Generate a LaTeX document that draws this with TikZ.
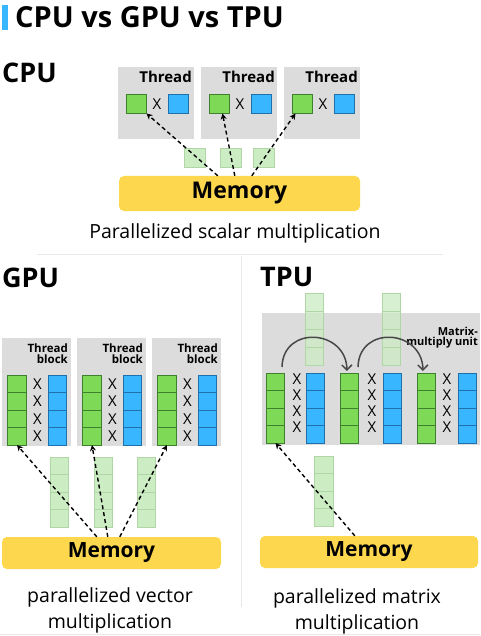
\documentclass[tikz,border=0pt]{standalone}
\usepackage{fontspec}
\setmainfont{Open Sans}
\usetikzlibrary{arrows.meta,calc}
\definecolor{grayb}{RGB}{220,220,220}
\definecolor{gfill}{RGB}{126,217,87}
\definecolor{gdraw}{RGB}{62,128,46}
\definecolor{bfill}{RGB}{56,182,255}
\definecolor{bdraw}{RGB}{32,112,172}
\definecolor{lgfill}{RGB}{204,236,196}
\definecolor{lgdraw}{RGB}{176,214,166}
\definecolor{memy}{RGB}{253,216,78}
\definecolor{sepc}{RGB}{232,232,232}
\definecolor{arcc}{RGB}{72,72,72}
\begin{document}
\begin{tikzpicture}[x=1pt,y=-1pt,
  panel/.style={fill=grayb,draw=none},
  gc/.style={fill=gfill,draw=gdraw,line width=0.8pt,inner sep=0,outer sep=0},
  bc/.style={fill=bfill,draw=bdraw,line width=0.8pt,inner sep=0,outer sep=0},
  lc/.style={fill=lgfill,draw=lgdraw,line width=0.6pt,inner sep=0,outer sep=0},
  mem/.style={fill=memy,rounded corners=5pt,inner sep=0,font=\fontsize{#1}{#1}\selectfont\bfseries},
  timesx/.style={inner sep=0,font=\fontsize{15}{15}\selectfont},
  head/.style={inner sep=0,anchor=west,font=\fontsize{27}{27}\selectfont\bfseries},
  lab/.style={inner sep=0,anchor=east,align=right,font=\fontsize{#1}{#1}\selectfont\bfseries},
  captext/.style={inner sep=0,align=center,font=\fontsize{19.5}{26}\selectfont},
  darr/.style={dash pattern=on 4pt off 3pt,line width=1.4pt,-{Stealth[length=6pt,width=6pt]}},
  arcarr/.style={draw=arcc,line width=1.5pt,-{Straight Barb[length=5pt,width=10pt]}}
]
\useasboundingbox (0,0) rectangle (480,636);
\fill[white] (0,0) rectangle (480,636);

% separators
\draw[sepc,line width=1pt] (37,254) -- (443,254);
\draw[sepc,line width=1pt] (241,256) -- (241,607);
\draw[sepc,line width=1pt] (0,634) -- (480,634);

% title
\fill[bfill] (2,5) rectangle (8,30);
\node[head,font=\fontsize{29}{29}\selectfont\bfseries] (title) at (15,17) {CPU vs GPU vs TPU};

% ================= CPU =================
\node[head] (cpuh) at (2,73) {CPU};
\foreach \i/\l in {1/118,2/201,3/284}{
  \fill[panel] (\l,67) rectangle ++(76,72);
  \node[lab=15] (ct\i) at (\l+74,77) {Thread};
  \node[gc,minimum width=20pt,minimum height=19pt] (cg\i) at (\l+18.5,104) {};
  \node[timesx] (cx\i) at (\l+39,104) {X};
  \node[bc,minimum width=20pt,minimum height=19pt] (cb\i) at (\l+60,104) {};
}
\foreach \i/\c in {1/194.5,2/230.5,3/263.5}
  \node[lc,minimum width=21pt,minimum height=19pt] (cl\i) at (\c,157.5) {};
\node[mem=23,minimum width=241pt,minimum height=35pt] (cmem) at (239.5,193.5) {Memory};
\node[captext] (ccap) at (235,233) {Parallelized scalar multiplication};
\draw[darr] ($(cmem.north west)+(99,0)$) -- (cg1.south east);
\draw[darr] ($(cmem.north west)+(116,0)$) -- ($(cg2.south)+(3,0)$);
\draw[darr] ($(cmem.north west)+(133,0)$) -- ($(cg3.south west)+(3,0)$);

% ================= GPU =================
\node[head] (gpuh) at (2,278) {GPU};
\foreach \i/\l in {1/2,2/77,3/152}{
  \fill[panel] (\l,338) rectangle ++(69,108);
  \node[lab=11.5] (gt\i) at (\l+66,353.5) {Thread\\[-1pt]block};
  \foreach \k in {1,2,3,4}{
    \node[gc,minimum width=19pt,minimum height=17.5pt] (gg\i\k) at (\l+15,366.25+17.5*\k) {};
    \node[timesx] (gx\i\k) at (\l+35.5,366.25+17.5*\k) {X};
    \node[bc,minimum width=18.5pt,minimum height=17.5pt] (gb\i\k) at (\l+55.25,366.25+17.5*\k) {};
  }
}
\foreach \i/\c in {1/59,2/103,3/146}
  \foreach \k in {1,2,3,4}
    \node[lc,minimum width=18pt,minimum height=17.5pt] (gl\i\k) at (\c,448.25+17.5*\k) {};
\node[mem=21,minimum width=219pt,minimum height=32pt] (gmem) at (111.5,553) {Memory};
\node[captext] (gcap) at (110,610) {parallelized vector\\multiplication};
\draw[darr] ($(gmem.north west)+(95,0)$) -- (gg14.south);
\draw[darr] ($(gmem.north west)+(106,0)$) -- (gg24.south);
\draw[darr] ($(gmem.north west)+(118,0)$) -- (gg34.south);

% ================= TPU =================
\node[head] (tpuh) at (260,277) {TPU};
\fill[panel] (262,313) rectangle (480,445);
\node[lab=11] (tmu) at (478,337.5) {Matrix-\\[-1pt]multiply unit};
\foreach \i/\c in {1/314,2/391}
  \foreach \k in {1,2,3,4}
    \node[lc,fill opacity=0.75,minimum width=18pt,minimum height=18pt] (tu\i\k) at (\c,284+18*\k) {};
\foreach \i/\g/\xx/\b in {1/275.5/297/315.5,2/349/372/392,3/426/447/467.5}{
  \foreach \k in {1,2,3,4}{
    \node[gc,minimum width=18pt,minimum height=17.5pt] (tg\i\k) at (\g,364.25+17.5*\k) {};
    \node[timesx] (tx\i\k) at (\xx,363+16*\k) {X};
    \node[bc,minimum width=18pt,minimum height=17.5pt] (tb\i\k) at (\b,364.25+17.5*\k) {};
  }
}
\draw[arcarr] ([xshift=6.5pt,yshift=6pt]tg11.north) .. controls +(1,-42) and +(-1,-42) .. ([xshift=-2pt,yshift=2pt]tg21.north);
\draw[arcarr] ([xshift=9pt,yshift=6pt]tg21.north) .. controls +(1,-42) and +(-1,-42) .. ([xshift=-3pt,yshift=2pt]tg31.north);
\foreach \k in {1,2,3,4}
  \node[lc,minimum width=19pt,minimum height=17.5pt] (tl\k) at (323.5,447.25+17.5*\k) {};
\node[mem=21,minimum width=218pt,minimum height=32pt] (tmem) at (369,552) {Memory};
\node[captext] (tcap) at (357,611) {parallelized matrix\\multiplication};
\draw[darr] ($(tmem.north west)+(95,0)$) -- (tg14.south);
\end{tikzpicture}
\end{document}
